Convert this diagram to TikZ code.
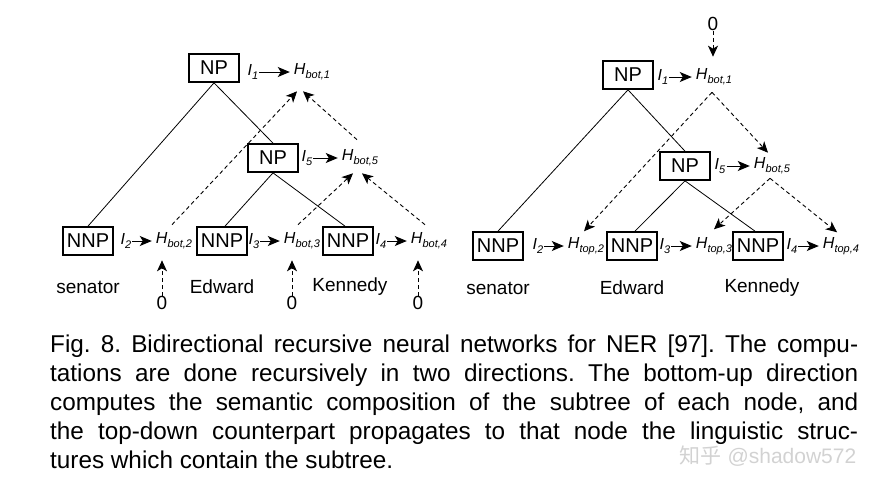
\documentclass[tikz,border=0pt]{standalone}
\usepackage{fontspec}
\setmainfont{Liberation Sans}
\newfontfamily\cjkf{Noto Sans CJK SC}
\usetikzlibrary{arrows.meta}
\newcommand{\hlab}[2]{\textit{#1}\raisebox{-0.45ex}{\fontsize{11}{11}\selectfont\textit{#2}}}
\begin{document}
\begin{tikzpicture}[x=1pt,y=-1pt,
  box/.style={draw,line width=1.7pt,minimum width=50pt,minimum height=28pt,inner sep=0pt,font=\fontsize{20}{20}\selectfont},
  lab/.style={inner sep=0pt,font=\fontsize{16}{16}\selectfont},
  word/.style={inner sep=0pt,font=\fontsize{19}{19}\selectfont},
  tree/.style={line width=0.8pt},
  flow/.style={line width=0.9pt,dash pattern=on 4pt off 3pt,-{Stealth[length=11pt,width=10pt,inset=3pt]}},
  iarr/.style={line width=1pt,shorten >=4pt,-{Stealth[length=12pt,width=10pt,inset=3pt]}}]
\useasboundingbox (0,0) rectangle (873,491);
% ---------- left diagram ----------
\node[box] (lnp1) at (214,68) {NP};
\node[lab] (li1) at (253,72) {\hlab{I}{1}};
\node[lab] (lh1) at (312,72) {\hlab{H}{bot,1}};
\node[box] (lnp5) at (273,158) {NP};
\node[lab] (li5) at (307,158) {\hlab{I}{5}};
\node[lab] (lh5) at (360,158) {\hlab{H}{bot,5}};
\node[box] (lnn2) at (88,241) {NNP};
\node[box] (lnn3) at (222,241) {NNP};
\node[box] (lnn4) at (348,241) {NNP};
\node[lab] (li2) at (126,241) {\hlab{I}{2}};
\node[lab] (li3) at (254,241) {\hlab{I}{3}};
\node[lab] (li4) at (381,241) {\hlab{I}{4}};
\node[lab] (lh2) at (174,241) {\hlab{H}{bot,2}};
\node[lab] (lh3) at (302,241) {\hlab{H}{bot,3}};
\node[lab] (lh4) at (429,241) {\hlab{H}{bot,4}};
\node[word] (lw1) at (88,287) {senator};
\node[word] (lw2) at (222,287) {Edward};
\node[word] (lw3) at (350,287) {Kennedy};
\node[word] (lz2) at (162,303) {0};
\node[word] (lz3) at (292,303) {0};
\node[word] (lz4) at (418,303) {0};
\draw[tree] (lnp1.south) -- (lnn2.north);
\draw[tree] (lnp1.south) -- (lnp5.north);
\draw[tree] (lnp5.south) -- ([xshift=3pt]lnn3.north);
\draw[tree] (lnp5.south) -- ([xshift=-3pt]lnn4.north);
\foreach \a/\b in {li1/lh1,li5/lh5,li2/lh2,li3/lh3,li4/lh4}
  \draw[iarr] ([xshift=1pt]\a.east) -- (\b.west);
\draw[flow] (lz2.north) -- ([yshift=-11pt]lz2.north |- lh2.south);
\draw[flow] (lz3.north) -- ([yshift=-11pt]lz3.north |- lh3.south);
\draw[flow] (lz4.north) -- ([yshift=-11pt]lz4.north |- lh4.south);
\draw[flow] ([xshift=-2pt,yshift=8pt]lh2.north) -- ([xshift=-15pt,yshift=-11pt]lh1.south);
\draw[flow] ([xshift=-3pt,yshift=10pt]lh5.north) -- ([xshift=-9pt,yshift=-11pt]lh1.south);
\draw[flow] ([xshift=-4pt,yshift=8pt]lh3.north) -- ([xshift=-7pt,yshift=-7pt]lh5.south);
\draw[flow] ([xshift=-4pt,yshift=8pt]lh4.north) -- ([xshift=2pt,yshift=-7pt]lh5.south);
% ---------- right diagram ----------
\node[box] (rnp1) at (628,75) {NP};
\node[lab] (ri1) at (663,77) {\hlab{I}{1}};
\node[lab] (rh1) at (714,77) {\hlab{H}{bot,1}};
\node[word] (rz1) at (713,24) {0};
\node[box] (rnp5) at (685,166) {NP};
\node[lab] (ri5) at (720,166) {\hlab{I}{5}};
\node[lab] (rh5) at (772,166) {\hlab{H}{bot,5}};
\node[box] (rnn2) at (498,246) {NNP};
\node[box] (rnn3) at (632,246) {NNP};
\node[box] (rnn4) at (758,246) {NNP};
\node[lab] (ri2) at (538,246) {\hlab{I}{2}};
\node[lab] (ri3) at (665,246) {\hlab{I}{3}};
\node[lab] (ri4) at (792,246) {\hlab{I}{4}};
\node[lab] (rh2) at (586,246) {\hlab{H}{top,2}};
\node[lab] (rh3) at (714,246) {\hlab{H}{top,3}};
\node[lab] (rh4) at (841,246) {\hlab{H}{top,4}};
\node[word] (rw1) at (498,288) {senator};
\node[word] (rw2) at (632,288) {Edward};
\node[word] (rw3) at (762,288) {Kennedy};
\draw[tree] (rnp1.south) -- (rnn2.north);
\draw[tree] (rnp1.south) -- (rnp5.north);
\draw[tree] (rnp5.south) -- ([xshift=3pt]rnn3.north);
\draw[tree] (rnp5.south) -- ([xshift=-3pt]rnn4.north);
\foreach \a/\b in {ri1/rh1,ri5/rh5,ri2/rh2,ri3/rh3,ri4/rh4}
  \draw[iarr] ([xshift=1pt]\a.east) -- (\b.west);
\draw[flow] (rz1.south) -- ([yshift=12pt]rz1.south |- rh1.north);
\draw[flow] ([xshift=-2pt,yshift=-7pt]rh1.south) -- ([xshift=-2pt,yshift=6pt]rh2.north);
\draw[flow] ([xshift=-2pt,yshift=-7pt]rh1.south) -- ([xshift=-4pt,yshift=5pt]rh5.north);
\draw[flow] ([xshift=-2pt,yshift=-4pt]rh5.south) -- ([xshift=0pt,yshift=8pt]rh3.north);
\draw[flow] ([xshift=-2pt,yshift=-4pt]rh5.south) -- ([xshift=-4pt,yshift=5pt]rh4.north);
% ---------- caption ----------
\node[anchor=north west,inner sep=0pt,text width=808pt,align=justify,
  font=\fontsize{24.3}{29}\selectfont\frenchspacing] (cap) at (50,335)
 {Fig. 8. Bidirectional recursive neural networks for NER [97]. The compu-\linebreak tations are done recursively in two directions. The bottom-up direction\linebreak computes the semantic composition of the subtree of each node, and\linebreak the top-down counterpart propagates to that node the linguistic struc-\linebreak tures which contain the subtree.};
\node[inner sep=0pt,text=gray!35,font=\fontsize{21}{21}\selectfont] (wm) at (768,456) {{\cjkf 知乎} @shadow572};
\end{tikzpicture}
\end{document}
